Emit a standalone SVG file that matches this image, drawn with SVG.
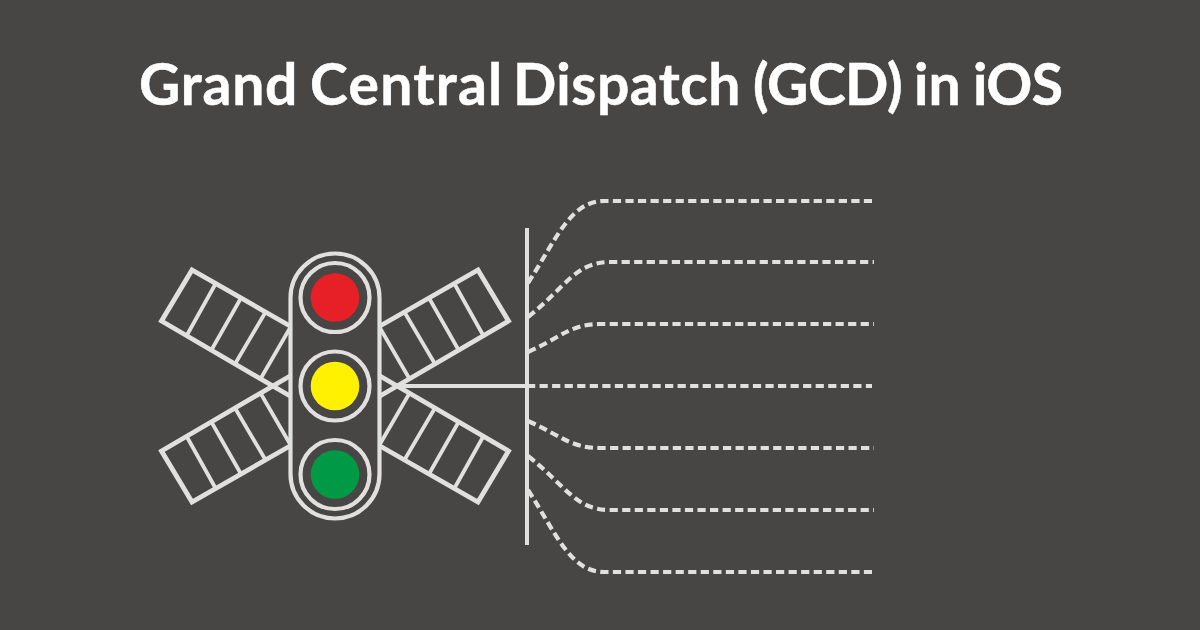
<svg xmlns="http://www.w3.org/2000/svg" width="1200" height="630" viewBox="0 0 1200 630">
<style>
.title{font-family:"Lato","Liberation Sans",sans-serif;font-weight:700;font-size:57px;fill:#fff;stroke:#fff;stroke-width:.5}
.edge{fill:none;stroke:#e0e0de;stroke-width:4.800}
.div{fill:none;stroke:#e0e0de;stroke-width:3.800}
.ring{fill:none;stroke:#e0e0de;stroke-width:4.200}
.dash{fill:none;stroke:#e0e0de;stroke-width:4.200;stroke-dasharray:8.200 4.350}
</style>
<defs>
<g id="arm">
<path class="edge" d="M380 326L478 270L508.500 321L380 396"/>
<path class="div" d="M454 283L483 335M429 298L458 349M405 313L435 364M380 328L409 378"/>
</g>
</defs>
<rect width="1200" height="630" fill="#484644"/>
<text id="title" class="title" y="105"><tspan x="139" letter-spacing=".8">Grand </tspan><tspan x="310" letter-spacing="1.300">Central </tspan><tspan x="513" letter-spacing=".5">Dispatch </tspan><tspan x="753" letter-spacing="-.5">(GCD) </tspan><tspan x="914">in </tspan><tspan x="973" letter-spacing="-.7">iOS</tspan></text>
<g id="arms">
<use href="#arm"/>
<use href="#arm" transform="matrix(1 0 0 -1 0 772)"/>
<use href="#arm" transform="matrix(-1 0 0 1 670 0)"/>
<use href="#arm" transform="matrix(-1 0 0 -1 670 772)"/>
</g>
<g id="signal">
<rect class="ring" x="290.500" y="253.500" width="89" height="265" rx="44.500" style="fill:#484644"/>
<circle class="ring" cx="335" cy="297.500" r="34.500"/>
<circle class="ring" cx="335" cy="386" r="34.500"/>
<circle class="ring" cx="335" cy="474.500" r="34.500"/>
<circle id="red" cx="335" cy="297.500" r="24.300" fill="#e71f26"/>
<circle id="yellow" cx="335" cy="386" r="24.300" fill="#fff100"/>
<circle id="green" cx="335" cy="474.500" r="24.300" fill="#009a46"/>
</g>
<g id="connectors">
<path d="M395 386H527" fill="none" stroke="#e0e0de" stroke-width="3.800"/>
<path class="dash" d="M528 283C556 240 570 201 604 201H872"/>
<path class="dash" d="M528 317C565 288 575 262 610 262H874"/>
<path class="dash" d="M528 352C560 338 570 324 600 324H874"/>
<path class="dash" d="M527 386H872"/>
<path class="dash" d="M528 421C560 435 570 448 600 448H874"/>
<path class="dash" d="M528 456C565 485 575 510 610 510H874"/>
<path class="dash" d="M528 490C556 533 570 572 604 572H872"/>
<path d="M527 228V545" fill="none" stroke="#e0e0de" stroke-width="4"/>
</g>
</svg>
